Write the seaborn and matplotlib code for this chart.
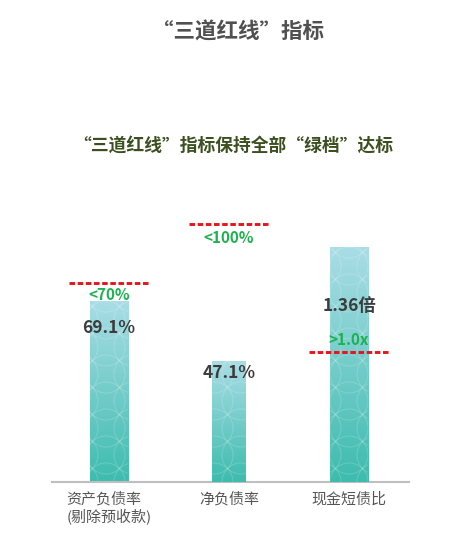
import numpy as np
import pandas as pd
import matplotlib
matplotlib.use('Agg')
import matplotlib.pyplot as plt
import seaborn as sns
from matplotlib.colors import LinearSegmentedColormap

# ---- data ----
categories       = ['资产负债率\n(剔除预收款)', '净负债率', '现金短债比']
values           = [69.1, 47.1, 1.36]
value_labels     = ['69.1%', '47.1%', '1.36倍']
thresholds       = [70, 100, 1.0]
threshold_labels = ['<70%', '<100%', '>1.0x']

title    = '“三道红线”指标'
subtitle = '“三道红线”指标保持全部“绿档”达标'

# ---- layout: the original is not to scale, every bar has its own y axis ----
ylims         = [(59.72, 75.24), (0, 116.3), (0.557, 1.582)]
bar_widths    = [0.32, 0.28, 0.32]
value_offsets = [-27, -12, -59]   # px, label centre relative to bar top
thr_offsets   = [-12, -14, 12]    # px, label centre relative to red line
PX = 0.72                         # points per pixel at dpi 100

sns.set_theme(style='white')
plt.rcParams['font.family'] = ['Noto Sans CJK SC', 'DejaVu Sans']

fig  = plt.figure(figsize=(4.74, 5.43), dpi=100)
rect = [52 / 474, 61 / 543, 357 / 474, 300 / 543]

grad_cmap = LinearSegmentedColormap.from_list('bar', ['#3dbcad', '#aadde6'])
grad      = np.linspace(0, 1, 256).reshape(-1, 1)
df        = pd.DataFrame({'cat': categories, 'val': values})

# circle texture of the bars (decoration), in axes fraction
gx, gy = np.meshgrid(np.arange(0, 357, 27) / 357, np.arange(0, 300, 27) / 300)

for i in range(len(categories)):
    ax = fig.add_axes(rect, facecolor='none')
    sns.barplot(data=df.iloc[[i]], x='cat', y='val', order=categories,
                width=bar_widths[i], color='#6cc9c4', ax=ax)
    bar = ax.patches[0]
    bar.set_facecolor('none')
    bar.set_edgecolor('none')
    x0, w = bar.get_x(), bar.get_width()
    lo = ylims[i][0]

    im = ax.imshow(grad, origin='lower', extent=[x0, x0 + w, lo, values[i]],
                   aspect='auto', cmap=grad_cmap, zorder=1)
    im.set_clip_path(bar)
    sc = ax.scatter(gx.ravel(), gy.ravel(), s=750, facecolors='none',
                    edgecolors='white', linewidths=0.8, alpha=0.16,
                    transform=ax.transAxes, zorder=2)
    sc.set_clip_path(bar)
    ax.set_xlim(-0.475, 2.5)
    ax.set_ylim(*ylims[i])

    ax.hlines(thresholds[i], i - 0.33, i + 0.33, colors='#e8141c',
              linestyles=(0, (1.9, 0.9)), linewidth=2.1, zorder=3)

    ax.annotate(value_labels[i], xy=(i, values[i]),
                xytext=(0, value_offsets[i] * PX), textcoords='offset points',
                ha='center', va='center', fontsize=12.5, fontweight='bold',
                color='#3c3c3c', annotation_clip=False, zorder=4)
    ax.annotate(threshold_labels[i], xy=(i, thresholds[i]),
                xytext=(0, thr_offsets[i] * PX), textcoords='offset points',
                ha='center', va='center', fontsize=11, fontweight='bold',
                color='#1db14f', annotation_clip=False, zorder=4)

    ax.set_xlabel('')
    ax.set_ylabel('')
    if i == 0:
        sns.despine(ax=ax, left=True)
        ax.set_yticks([])
        ax.spines['bottom'].set_color('#bfbfbf')
        ax.spines['bottom'].set_linewidth(1.5)
        ax.tick_params(axis='x', length=0, pad=7, labelsize=10.8,
                       labelcolor='#555555')
        for t in ax.get_xticklabels():
            t.set_multialignment('left')
    else:
        ax.set_axis_off()

fig.text(238 / 474, 1 - 32 / 543, title, ha='center', va='center',
         fontsize=15.5, fontweight='bold', color='#505050')
fig.text(233 / 474, 1 - 146 / 543, subtitle, ha='center', va='center',
         fontsize=12.8, fontweight='bold', color='#3b4f1f')

fig.savefig('out.png', dpi=100)
